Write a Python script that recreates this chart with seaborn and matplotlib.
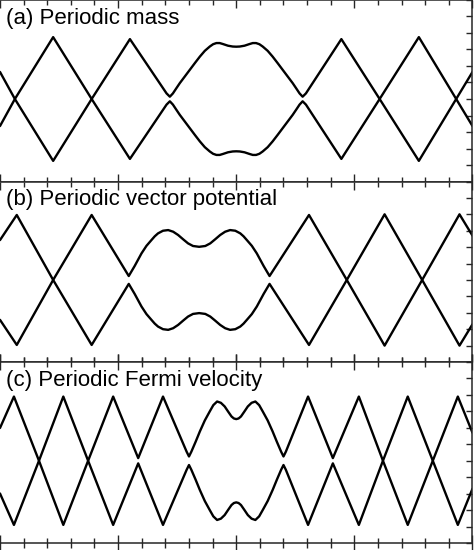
import numpy as np
import matplotlib
matplotlib.use('Agg')
import matplotlib.pyplot as plt
from matplotlib.ticker import MultipleLocator
import seaborn as sns

# Upper band (k across the x range, E in units of the y ticks).
# The lower band is the mirror image E -> -E, as in the reference.
k_mass = [-1.0, -0.937, -0.775, -0.612, -0.450, -0.295, -0.281, -0.268, -0.255, -0.239,
          -0.218, -0.197, -0.175, -0.154, -0.133, -0.112, -0.098, -0.084, -0.070, -0.056,
          -0.035, -0.015, 0.0, 0.015, 0.035, 0.056, 0.070, 0.084, 0.098, 0.112,
          0.133, 0.154, 0.175, 0.197, 0.218, 0.239, 0.255, 0.268, 0.281, 0.295,
          0.445, 0.607, 0.773, 0.931, 1.0]
e_mass = [0.164, 0.0, 0.375, 0.0, 0.363, 0.034, 0.014, 0.034, 0.062, 0.096,
          0.136, 0.176, 0.218, 0.257, 0.292, 0.318, 0.332, 0.339, 0.339, 0.333,
          0.323, 0.318, 0.317, 0.318, 0.323, 0.333, 0.339, 0.339, 0.332, 0.318,
          0.292, 0.257, 0.218, 0.176, 0.136, 0.096, 0.062, 0.034, 0.014, 0.034,
          0.363, 0.0, 0.375, 0.0, 0.164]

k_vec = [-1.0, -0.929, -0.775, -0.612, -0.455, -0.430, -0.401, -0.380,
         -0.359, -0.345, -0.331, -0.310, -0.288, -0.267, -0.246, -0.225, -0.204, -0.183,
         -0.157, -0.131, -0.110, -0.089, -0.068, -0.047, -0.026, -0.004, 0.017, 0.031,
         0.045, 0.066, 0.087, 0.116, 0.141, 0.308, 0.468, 0.628,
         0.787, 0.945, 1.0]
e_vec = [0.243, 0.396, 0.0, 0.396, 0.024, 0.085, 0.162, 0.208,
         0.243, 0.266, 0.284, 0.300, 0.304, 0.294, 0.274, 0.248, 0.223, 0.207,
         0.202, 0.207, 0.223, 0.248, 0.274, 0.294, 0.304, 0.300, 0.284, 0.266,
         0.243, 0.208, 0.162, 0.085, 0.024, 0.396, 0.0, 0.40,
         0.0, 0.40, 0.27]

k_fermi = [-1.0, -0.941, -0.835, -0.732, -0.627, -0.521, -0.415, -0.310, -0.210, -0.200,
           -0.190, -0.172, -0.154, -0.133, -0.112, -0.097, -0.081, -0.065, -0.049, -0.034,
           -0.020, -0.010, 0.0, 0.010, 0.020, 0.034, 0.049, 0.065, 0.081, 0.097,
           0.112, 0.133, 0.154, 0.172, 0.190, 0.200, 0.210, 0.304, 0.409, 0.519,
           0.621, 0.726, 0.832, 0.938, 1.0]
e_fermi = [0.199, 0.39, 0.0, 0.39, 0.0, 0.39, 0.016, 0.39, 0.055, 0.026,
           0.055, 0.115, 0.178, 0.245, 0.300, 0.338, 0.360, 0.352, 0.330, 0.298,
           0.269, 0.257, 0.253, 0.257, 0.269, 0.298, 0.330, 0.352, 0.360, 0.338,
           0.300, 0.245, 0.178, 0.115, 0.055, 0.026, 0.055, 0.39, 0.016, 0.39,
           0.0, 0.39, 0.0, 0.39, 0.17]

labels = ['(a) Periodic mass', '(b) Periodic vector potential', '(c) Periodic Fermi velocity']
panels = [(k_mass, e_mass), (k_vec, e_vec), (k_fermi, e_fermi)]

sns.set_style('ticks')
plt.rcParams['font.family'] = ['Liberation Sans', 'DejaVu Sans']

fig = plt.figure(figsize=(4.74, 5.5), dpi=100)
# axes boxes in figure fractions: (a) top, (b) middle, (c) bottom, touching each other
boxes = [[0.0, 0.670, 0.9968, 0.330],
         [0.0, 0.3418, 0.9968, 0.3282],
         [0.0, 0.0127, 0.9968, 0.3291]]

for i, (box, (k, e), label) in enumerate(zip(boxes, panels, labels)):
    ax = fig.add_axes(box)
    k = np.array(k)
    e = np.array(e)
    sns.lineplot(x=k, y=e, ax=ax, color='black', lw=1.7, sort=False, estimator=None)
    sns.lineplot(x=k, y=-e, ax=ax, color='black', lw=1.7, sort=False, estimator=None)
    for ln in ax.lines:
        ln.set_solid_joinstyle('round')
    ax.set_xlim(-1, 1)
    ax.set_ylim(-0.5, 0.6)
    ax.xaxis.set_major_locator(MultipleLocator(0.5))
    ax.xaxis.set_minor_locator(MultipleLocator(0.1))
    ax.yaxis.set_major_locator(MultipleLocator(0.1))
    ax.spines['left'].set_visible(False)
    for s in ['top', 'bottom', 'right']:
        ax.spines[s].set_linewidth(1.1)
    xdir = 'inout' if i == 2 else 'in'
    xs = 2 if i == 2 else 1
    ax.tick_params(axis='x', which='major', direction=xdir, top=True, bottom=True,
                   length=5.5 * xs, width=1.0, labelbottom=False, labeltop=False)
    ax.tick_params(axis='x', which='minor', direction=xdir, top=True, bottom=True,
                   length=3.5 * xs, width=1.0)
    ax.tick_params(axis='y', which='both', direction='in', left=False, right=True,
                   length=4.5, width=1.0, labelleft=False, labelright=False)
    ax.set_xlabel('')
    ax.set_ylabel('')
    ax.text(0.013, 0.958, label, transform=ax.transAxes, ha='left', va='top',
            fontsize=16, color='black')

fig.savefig('out.png', dpi=100)
